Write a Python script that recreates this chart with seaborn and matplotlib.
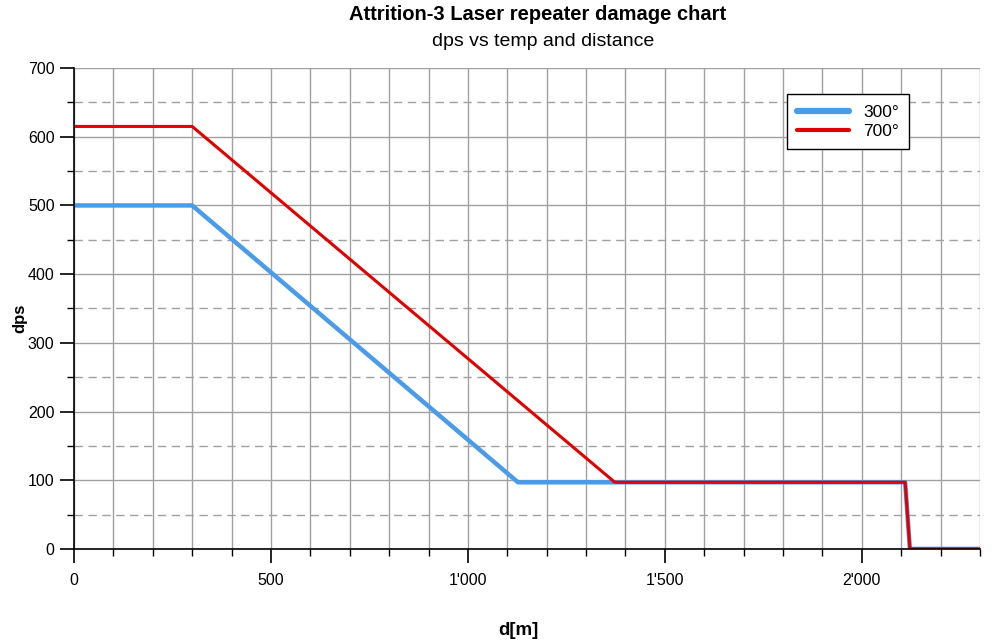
"""Attrition-3 Laser repeater damage chart."""
import matplotlib
matplotlib.use("Agg")
import matplotlib.pyplot as plt
from matplotlib.ticker import MultipleLocator, FuncFormatter
import pandas as pd
import seaborn as sns

# distance (m) and dps per heat level
dist_300 = [0, 300, 1127, 2110, 2122, 2300]
dps_300 = [500, 500, 97, 97, 0, 0]
dist_700 = [0, 300, 1373, 2110, 2122, 2300]
dps_700 = [615, 615, 97, 97, 0, 0]
labels = ["300°", "700°"]

sns.set_theme(style="white")
plt.rcParams["font.family"] = ["Liberation Sans", "DejaVu Sans"]
plt.rcParams.update({
    "text.color": "black",
    "axes.labelcolor": "black",
    "xtick.color": "black",
    "ytick.color": "black",
})

df300 = pd.DataFrame({"d": dist_300, "dps": dps_300})
df700 = pd.DataFrame({"d": dist_700, "dps": dps_700})

fig = plt.figure(figsize=(10, 6.42), dpi=100)
ax = fig.add_axes([0.074, 0.145, 0.906, 0.749])

sns.lineplot(data=df300, x="d", y="dps", ax=ax, color="#4a9be8", linewidth=3.2, label=labels[0])
sns.lineplot(data=df700, x="d", y="dps", ax=ax, color="#e00000", linewidth=2.2, label=labels[1])

ax.set_xlim(0, 2300)
ax.set_ylim(0, 700)
ax.xaxis.set_major_locator(MultipleLocator(500))
ax.xaxis.set_minor_locator(MultipleLocator(100))
ax.yaxis.set_major_locator(MultipleLocator(100))
ax.yaxis.set_minor_locator(MultipleLocator(50))
ax.xaxis.set_major_formatter(FuncFormatter(lambda v, p: f"{int(v):,}".replace(",", "'")))

ax.grid(True, which="major", axis="both", color="#a0a0a0", linewidth=1.0, linestyle="-")
ax.grid(True, which="minor", axis="x", color="#a0a0a0", linewidth=1.0, linestyle="-")
ax.grid(True, which="minor", axis="y", color="#a0a0a0", linewidth=1.0, linestyle=(0, (6, 4)))
ax.set_axisbelow(True)

for s in ["top", "right"]:
    ax.spines[s].set_visible(False)
for s in ["left", "bottom"]:
    ax.spines[s].set_color("black")
    ax.spines[s].set_linewidth(1.2)

ax.tick_params(axis="both", which="major", direction="out", length=10, width=1.2,
               labelsize=11.5, bottom=True, left=True)
ax.tick_params(axis="both", which="minor", direction="out", length=5, width=1.0,
               bottom=True, left=True)
ax.tick_params(axis="x", which="major", pad=7)
ax.tick_params(axis="y", which="major", pad=4)

ax.set_xlabel("d[m]", fontsize=13.5, fontweight="bold")
ax.set_ylabel("dps", fontsize=12, fontweight="bold")
ax.xaxis.set_label_coords(0.49, -0.152)
ax.yaxis.set_label_coords(-0.052, 0.48)

fig.text(0.538, 0.978, "Attrition-3 Laser repeater damage chart", ha="center", va="center",
         fontsize=14.5, fontweight="bold")
fig.text(0.543, 0.936, "dps vs temp and distance", ha="center", va="center", fontsize=14)

leg = ax.legend(loc="upper right", bbox_to_anchor=(0.922, 0.946), borderaxespad=0,
                fontsize=12.5, frameon=True, fancybox=False, edgecolor="black",
                framealpha=1, borderpad=0.6, handlelength=3.0, handletextpad=0.8,
                labelspacing=0.25)
leg.get_frame().set_linewidth(1.0)
leg.get_lines()[0].set_linewidth(4.5)
leg.get_lines()[1].set_linewidth(3.0)

fig.savefig("out.png", dpi=100)
plt.close(fig)
